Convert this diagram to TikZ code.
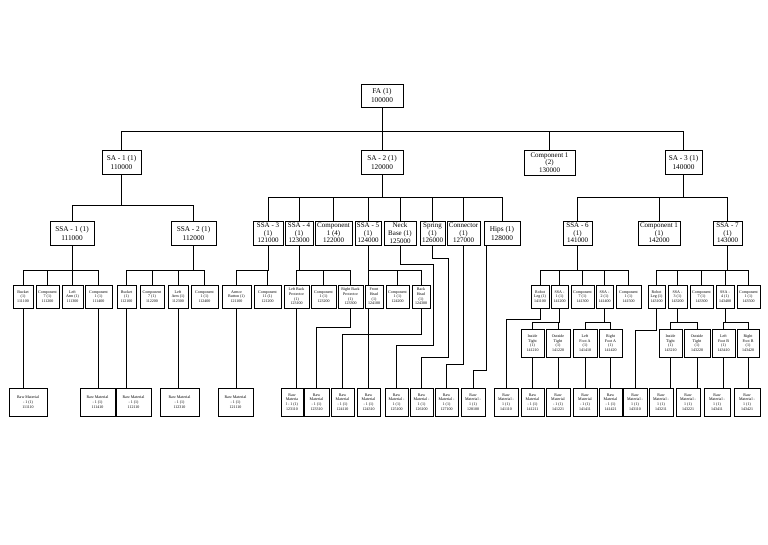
\documentclass[tikz,border=0pt]{standalone}
\usepackage{fontspec}
\setmainfont{Liberation Serif}
\usetikzlibrary{shadows}
\tikzset{
  bx/.style={draw, fill=white, inner sep=0pt, align=center, line width=0.8pt,
    drop shadow={shadow xshift=0.9pt, shadow yshift=-0.9pt, fill=black!40, opacity=1}},
  big/.style={bx, font=\fontsize{7}{7.6}\selectfont},
  bigtwo/.style={bx, font=\fontsize{7.3}{9}\selectfont},
  sm/.style={bx, font=\fontsize{4}{4.7}\selectfont},
  ln/.style={line width=0.8pt}
}
\newcommand\B[7]{\node[#1,minimum width={(#4-#3)*1pt},minimum height={(#6-#5)*1pt}] (#2) at ({(#3+#4)/2},{(#5+#6)/2}) {#7};}
\newcommand\mykids[5]{%
  \draw[ln] (#1.south) -- (#1.south|-0,#2);
  \draw[ln] (#1.south|-0,#2) -- (#3.north|-0,#2) -- (#3.north);
  \draw[ln] (#1.south|-0,#2) -- (#4.north|-0,#2) -- (#4.north);
  \foreach \c in {#5} {\draw[ln] (\c.north) -- (\c.north|-0,#2);}
}
\newcommand\down[2]{\draw[ln] (#1.south) -- (#1.south|-#2.north);}
\newcommand\elbow[3]{\draw[ln] (#1.south) -- (#1.south|-0,#3) -| (#2.north);}
\begin{document}
\begin{tikzpicture}[x=1pt,y=-1pt]
\useasboundingbox (0,0) rectangle (768,544);
\fill[white] (0,0) rectangle (768,544);
% level 0
\B{bigtwo}{fa}{361}{403}{84}{107}{FA (1)\\100000}
% level 1
\B{bigtwo}{sa1}{102}{141}{150}{174}{SA - 1 (1)\\110000}
\B{bigtwo}{sa2}{361}{403}{150}{174}{SA - 2 (1)\\120000}
\B{big}{c130}{524}{575}{150}{175}{Component 1\\(2)\\130000}
\B{bigtwo}{sa3}{665}{702}{150}{174}{SA - 3 (1)\\140000}
% level 2
\B{bigtwo}{ssa1}{50}{94}{221}{245}{SSA - 1 (1)\\111000}
\B{bigtwo}{ssa2}{171}{216}{221}{245}{SSA - 2 (1)\\112000}
\B{big}{ssa3}{253}{283}{221}{245}{SSA - 3\\(1)\\121000}
\B{big}{ssa4}{285}{313}{221}{245}{SSA - 4\\(1)\\123000}
\B{big}{c122}{315}{352}{221}{245}{Component\\1 (4)\\122000}
\B{big}{ssa5}{355}{381}{221}{245}{SSA - 5\\(1)\\124000}
\B{big}{neck}{384}{416}{221}{245}{Neck\\Base (1)\\125000}
\B{big}{spring}{420}{445}{221}{245}{Spring\\(1)\\126000}
\B{big}{conn}{447}{480}{221}{245}{Connector\\(1)\\127000}
\B{bigtwo}{hips}{484}{520}{221}{245}{Hips (1)\\128000}
\B{big}{ssa6}{563}{592}{221}{245}{SSA - 6\\(1)\\141000}
\B{big}{c142}{638}{680}{221}{245}{Component 1\\(1)\\142000}
\B{big}{ssa7}{713}{742}{221}{245}{SSA - 7\\(1)\\143000}
% level 3
\B{sm}{b1}{13}{33}{285}{308}{Bucket\\(1)\\111100}
\B{sm}{c1112}{36}{59}{285}{308}{Component\\7 (1)\\111200}
\B{sm}{la1}{62}{83}{285}{308}{Left\\Arm (1)\\111300}
\B{sm}{c1114}{85}{112}{285}{308}{Component\\1 (1)\\111400}
\B{sm}{b2}{117}{136}{285}{308}{Bucket\\(1)\\112100}
\B{sm}{c1122}{140}{164}{285}{308}{Component\\7 (1)\\112200}
\B{sm}{la2}{168}{188}{285}{308}{Left\\Arm (1)\\112300}
\B{sm}{c1124}{191}{218}{285}{308}{Component\\1 (1)\\112400}
\B{sm}{ab}{222}{251}{285}{308}{Armor\\Button (1)\\121100}
\B{sm}{c1212}{254}{281}{285}{308}{Component\\11 (1)\\121200}
\B{sm}{lbp}{284}{309}{285}{308}{Left Back\\Protector\\(1)\\123100}
\B{sm}{c1232}{311}{336}{285}{308}{Component\\1 (1)\\123200}
\B{sm}{rbp}{338}{363}{285}{308}{Right Back\\Protector\\(1)\\123300}
\B{sm}{fh}{365}{383}{285}{308}{Front\\Head\\(1)\\124100}
\B{sm}{c1242}{386}{409}{285}{308}{Component\\1 (1)\\124200}
\B{sm}{bh}{412}{430}{285}{308}{Back\\Head\\(1)\\124300}
\B{sm}{rl1}{531}{549}{285}{308}{Robot\\Leg (1)\\141100}
\B{sm}{s1}{551}{568}{285}{308}{SSA -\\1 (1)\\141200}
\B{sm}{c1413}{571}{594}{285}{308}{Component\\7 (1)\\141300}
\B{sm}{s2}{596}{613}{285}{308}{SSA -\\2 (1)\\141400}
\B{sm}{c1415}{616}{641}{285}{308}{Component\\1 (1)\\141500}
\B{sm}{rl2}{648}{665}{285}{308}{Robot\\Leg (1)\\143100}
\B{sm}{s3}{668}{687}{285}{308}{SSA -\\3 (1)\\143200}
\B{sm}{c1433}{690}{713}{285}{308}{Component\\7 (1)\\143300}
\B{sm}{s4}{716}{734}{285}{308}{SSA -\\4 (1)\\143400}
\B{sm}{c1435}{737}{760}{285}{308}{Component\\1 (1)\\143500}
% level 4
\B{sm}{it1}{521}{544}{329}{357}{Inside\\Tight\\(1)\\141210}
\B{sm}{ot1}{546}{570}{329}{357}{Outside\\Tight\\(1)\\141220}
\B{sm}{lfa}{573}{597}{329}{357}{Left\\Foot A\\(1)\\141410}
\B{sm}{rfa}{599}{622}{329}{357}{Right\\Foot A\\(1)\\141420}
\B{sm}{it2}{659}{682}{329}{357}{Inside\\Tight\\(1)\\143210}
\B{sm}{ot2}{684}{710}{329}{357}{Outside\\Tight\\(1)\\143220}
\B{sm}{lfb}{712}{735}{329}{357}{Left\\Foot B\\(1)\\143410}
\B{sm}{rfb}{737}{759}{329}{357}{Right\\Foot B\\(1)\\143420}
% bottom raw materials
\B{sm}{r1}{9}{47}{388}{416}{Raw Material\\- 1 (1)\\111110}
\B{sm}{r2}{80}{115}{388}{416}{Raw Material\\- 1 (1)\\111410}
\B{sm}{r3}{116}{151}{388}{416}{Raw Material\\- 1 (1)\\112110}
\B{sm}{r4}{160}{199}{388}{416}{Raw Material\\- 1 (1)\\112310}
\B{sm}{r5}{218}{253}{388}{416}{Raw Material\\- 1 (1)\\121110}
\B{sm}{r6}{281}{303}{388}{416}{Raw\\Materia\\l - 1 (1)\\123110}
\B{sm}{r7}{304}{329}{388}{416}{Raw\\Material\\- 1 (1)\\123310}
\B{sm}{r8}{331}{354}{388}{416}{Raw\\Material\\- 1 (1)\\124110}
\B{sm}{r9}{357}{380}{388}{416}{Raw\\Material\\- 1 (1)\\124310}
\B{sm}{r10}{385}{408}{388}{416}{Raw\\Material -\\1 (1)\\125100}
\B{sm}{r11}{410}{433}{388}{416}{Raw\\Material -\\1 (1)\\126100}
\B{sm}{r12}{435}{458}{388}{416}{Raw\\Material -\\1 (1)\\127100}
\B{sm}{r13}{461}{485}{388}{416}{Raw\\Material -\\1 (1)\\128100}
\B{sm}{r14}{494}{518}{388}{416}{Raw\\Material -\\1 (1)\\141110}
\B{sm}{r15}{521}{544}{388}{416}{Raw\\Material\\- 1 (1)\\141211}
\B{sm}{r16}{546}{570}{388}{416}{Raw\\Material\\- 1 (1)\\141221}
\B{sm}{r17}{573}{597}{388}{416}{Raw\\Material\\- 1 (1)\\141411}
\B{sm}{r18}{599}{622}{388}{416}{Raw\\Material\\- 1 (1)\\141421}
\B{sm}{r19}{623}{647}{388}{416}{Raw\\Material -\\1 (1)\\143110}
\B{sm}{r20}{649}{673}{388}{416}{Raw\\Material -\\1 (1)\\143211}
\B{sm}{r21}{676}{700}{388}{416}{Raw\\Material -\\1 (1)\\143221}
\B{sm}{r22}{704}{730}{388}{416}{Raw\\Material -\\1 (1)\\143411}
\B{sm}{r23}{734}{760}{388}{416}{Raw\\Material -\\1 (1)\\143421}
% connectors
\mykids{fa}{131}{sa1}{sa3}{sa2,c130}
\mykids{sa1}{205}{ssa1}{ssa2}{ssa1}
\mykids{sa2}{197}{ssa3}{hips}{ssa4,c122,ssa5,neck,spring,conn}
\mykids{sa3}{197}{ssa6}{ssa7}{c142}
\mykids{ssa1}{270}{b1}{c1114}{c1112,la1}
\mykids{ssa2}{270}{b2}{c1124}{c1122,la2}
\mykids{ssa3}{270}{ab}{c1212}{ab}
\mykids{ssa4}{270}{lbp}{rbp}{c1232}
\draw[ln] (ssa5.south) -- (ssa5.south|-fh.north);
\draw[ln] (ssa5.south|-0,270) -| (c1242.north);
\draw[ln] (ssa5.south|-0,270) -| (bh.north);
\mykids{ssa6}{270}{rl1}{c1415}{s1,c1413,s2}
\mykids{ssa7}{270}{rl2}{c1435}{s3,c1433,s4}
\mykids{s1}{322}{it1}{ot1}{it1}
\mykids{s2}{322}{lfa}{rfa}{lfa}
\mykids{s3}{322}{it2}{ot2}{it2}
\mykids{s4}{322}{lfb}{rfb}{lfb}
\down{b1}{r1}
\down{c1114}{r2}
\down{b2}{r3}
\down{la2}{r4}
\down{ab}{r5}
\down{lbp}{r6}
\elbow{rbp}{r7}{327}
\draw[ln] (fh.south-|ssa5.south) -- (ssa5.south|-0,334) -| (r8.north);
\elbow{bh}{r9}{334}
\draw[ln] (neck.south) -- (neck.south|-0,264) -| (433,345) -| (r10.north);
\draw[ln] (spring.south) -- (spring.south|-0,258) -| (448,357) -| (r11.north);
\elbow{conn}{r12}{364}
\draw[ln] ([xshift=3pt]hips.south west) -- ++(0,125) -| (r13.north);
\elbow{rl1}{r14}{319}
\down{it1}{r15}
\down{ot1}{r16}
\down{lfa}{r17}
\down{rfa}{r18}
\elbow{rl2}{r19}{330}
\down{it2}{r20}
\down{ot2}{r21}
\down{lfb}{r22}
\down{rfb}{r23}
\end{tikzpicture}
\end{document}
